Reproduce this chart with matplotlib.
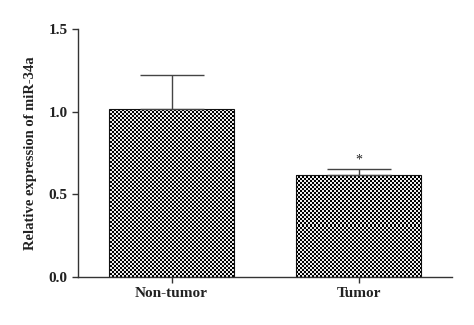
import matplotlib

matplotlib.use("Agg")
import matplotlib.pyplot as plt
import numpy as np

groups = ["Non-tumor", "Tumor"]
means = [1.014, 0.617]
sem_upper = [0.21, 0.034]
significance = ["", "*"]

plt.rcParams["font.family"] = ["Liberation Serif", "DejaVu Serif"]

fig = plt.figure(figsize=(4.74, 3.25), dpi=100)
ax = fig.add_axes([0.1646, 0.1477, 0.789, 0.7631])

x = np.arange(len(groups))
bars = ax.bar(x, means, width=0.667, facecolor="none", edgecolor="#111111",
              linewidth=0.8, zorder=2)

# checkerboard fill, 2 px cells, clipped to each bar
cell = 2
w_px = int(round(fig.get_figwidth() * fig.dpi * 0.789))
h_px = int(round(fig.get_figheight() * fig.dpi * 0.7631))
nx, ny = w_px // cell, h_px // cell
board = (np.add.outer(np.arange(ny), np.arange(nx)) % 2).astype(float)
for b in bars:
    im = ax.imshow(board, cmap="gray", vmin=0.0, vmax=1.08,
                   extent=(0, 1, 0, 1), transform=ax.transAxes,
                   interpolation="nearest", aspect="auto", zorder=1)
    im.set_clip_path(b)

ax.errorbar(x, means, yerr=[np.zeros(len(means)), sem_upper], fmt="none",
            ecolor="#444444", elinewidth=1.0, capsize=23, capthick=1.0, zorder=3)

for xi, m, s, lab in zip(x, means, sem_upper, significance):
    if lab:
        ax.text(xi, m + s + 0.015, lab, ha="center", va="bottom",
                fontsize=10, color="#222222")

ax.set_xlim(-0.5, 1.5)
ax.set_ylim(0, 1.5)
ax.set_yticks([0.0, 0.5, 1.0, 1.5])
ax.set_yticklabels(["0.0", "0.5", "1.0", "1.5"])
ax.set_xticks(x)
ax.set_xticklabels(groups)
for spine in ("top", "right"):
    ax.spines[spine].set_visible(False)
for spine in ("left", "bottom"):
    ax.spines[spine].set_color("#333333")
    ax.spines[spine].set_linewidth(1.0)
ax.tick_params(axis="both", direction="out", length=4, width=1.0,
               color="#333333", labelsize=11, labelcolor="#222222")
for lbl in ax.get_xticklabels() + ax.get_yticklabels():
    lbl.set_fontweight("bold")
ax.set_ylabel("Relative expression of miR-34a", fontsize=10.5,
              fontweight="bold", color="#222222", labelpad=8)

fig.savefig("out.png", dpi=100)
